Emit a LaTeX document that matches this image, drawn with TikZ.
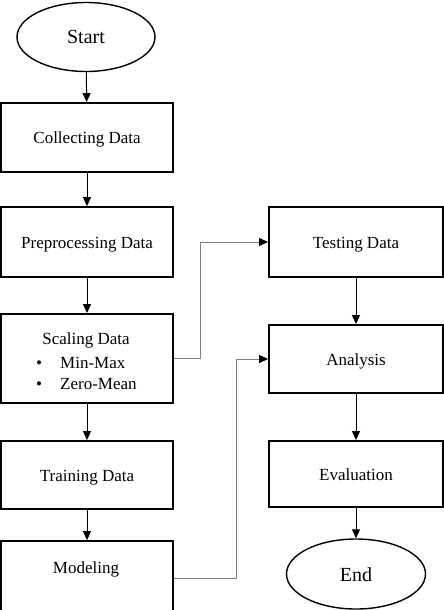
\documentclass[tikz,border=0pt]{standalone}
\usepackage{fontspec}
\setmainfont{Liberation Serif}
\usetikzlibrary{arrows.meta,shapes.geometric}
\begin{document}
\begin{tikzpicture}[x=1pt,y=-1pt,
  box/.style={draw, line width=1.8pt, minimum width=172pt, inner sep=0pt, text height=12pt, text depth=0pt, font=\fontsize{17}{20}\selectfont},
  oval/.style={draw, ellipse, line width=1.4pt, minimum width=138pt, minimum height=69pt, inner sep=0pt, text height=14pt, text depth=0pt, font=\fontsize{20}{24}\selectfont},
  txt/.style={inner sep=0pt, text height=12pt, text depth=0pt, font=\fontsize{17}{20}\selectfont},
  arr/.style={-{Triangle[length=9pt,width=8pt]}, line width=1pt},
  conn/.style={draw=black!50, line width=1pt, -{Triangle[length=9pt,width=8pt,color=black]}}]
\useasboundingbox (0,0) rectangle (444,610);
\clip (0,0) rectangle (444,610);
\fill[white] (0,0) rectangle (444,610);
% left column
\node[oval] (start) at (86,37) {Start};
\node[box, minimum height=69pt] (collect) at (87,137.5) {Collecting Data};
\node[box, minimum height=70pt] (prep) at (87,242) {Preprocessing Data};
\node[box, minimum height=89pt] (scale) at (87,358.5) {};
\node[txt] (scalet) at (86,338.5) {Scaling Data};
\node[txt, anchor=west] (b1) at (36,362) {•};
\node[txt, anchor=west] (m1) at (60,362) {Min-Max};
\node[txt, anchor=west] (b2) at (36,383.5) {•};
\node[txt, anchor=west] (m2) at (60,383.5) {Zero-Mean};
\node[box, minimum height=68pt] (train) at (87,475) {Training Data};
\node[box, minimum height=74pt] (model) at (87,578) {};
\node[txt] (modelt) at (86,567.5) {Modeling};
% right column
\node[box, minimum width=174pt, minimum height=70pt] (test) at (356,242) {Testing Data};
\node[box, minimum width=174pt, minimum height=68pt] (anal) at (356,359) {Analysis};
\node[box, minimum width=174pt, minimum height=66pt] (eval) at (356,474) {Evaluation};
\node[oval, minimum width=139pt, minimum height=70pt] (end) at (356,574) {End};
% arrows
\draw[arr] (start) -- (collect);
\draw[arr] (collect) -- (prep);
\draw[arr] (prep) -- (scale);
\draw[arr] (scale) -- (train);
\draw[arr] (train) -- (model);
\draw[arr] (test) -- (anal);
\draw[arr] (anal) -- (eval);
\draw[arr] (eval) -- (end);
\draw[conn] (scale.east) -- ++(27,0) |- (test.west);
\draw[conn] (model.east) -- ++(63,0) |- (anal.west);
\end{tikzpicture}
\end{document}
